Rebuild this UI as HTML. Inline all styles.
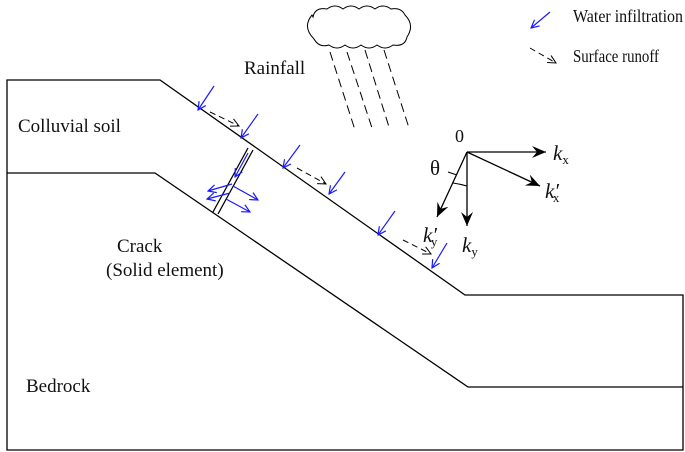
<!DOCTYPE html>
<html><head><style>body{margin:0;background:#fff}svg{display:block}text{font-family:"Liberation Serif","Times New Roman",serif;fill:#111}</style></head><body>
<svg width="685" height="452" viewBox="0 0 685 452" xmlns="http://www.w3.org/2000/svg">
<defs>
<marker id="b" markerWidth="10" markerHeight="10" refX="9" refY="5" orient="auto" markerUnits="userSpaceOnUse"><path d="M1,1 L9,5 L1,9" fill="none" stroke="#1a1aff" stroke-width="1.2"/></marker>
<marker id="k" markerWidth="10" markerHeight="10" refX="9" refY="5" orient="auto" markerUnits="userSpaceOnUse"><path d="M1,1 L9,5 L1,9" fill="none" stroke="#000" stroke-width="1"/></marker>
<marker id="h" markerWidth="16" markerHeight="12" refX="14" refY="6" orient="auto" markerUnits="userSpaceOnUse"><path d="M0,0 L14,6 L0,12 L5,6Z" fill="#000"/></marker>
</defs>
<g fill="none" stroke="#000" stroke-width="1.3">
<path d="M7,450 L7,80 L160,80 L465,295 L683,295 L683,450 Z"/>
<path d="M7,173 L155,173 L468,387 L683,387"/>
<path d="M248,148 L213,212 M253,150 L218,214"/>
<path d="M312,15 q-10,12 2,24 q5,9 15,6 q8,6 16,0 q8,6 16,0 q8,6 16,0 q8,6 16,0 q12,2 14,-8 q8,-12 -2,-22 q-4,-8 -14,-6 q-8,-6 -16,0 q-8,-6 -16,0 q-8,-6 -16,0 q-8,-6 -16,0 q-12,-2 -14,8 Z" stroke-width="1"/>
<g stroke-dasharray="9,5" stroke-width="1"><path d="M330,52 L355,130 M347,52 L372,128 M365,50 L389,127 M384,50 L409,128"/></g>
<g stroke-dasharray="6,4" stroke-width="1" marker-end="url(#k)"><path d="M210,112 L239,126"/><path d="M297,168 L326,184"/><path d="M403,240 L431,254"/><path d="M530,48 L556,63"/></g>
</g>
<g stroke="#1a1aff" stroke-width="1.2" fill="none" marker-end="url(#b)">
<path d="M214,86 L198,110"/><path d="M258,114 L241,138"/><path d="M300,145 L283,168"/><path d="M345,172 L329,194"/><path d="M395,211 L378,235"/><path d="M447,243 L432,268"/><path d="M550,12 L531,28"/>
<path d="M248,153 L235,177"/><path d="M232,184 L208,191"/><path d="M230,193 L207,199"/><path d="M233,186 L258,200"/><path d="M226,199 L250,212"/>
</g>
<g stroke="#000" stroke-width="1.3" fill="none">
<path d="M467,152 L546,152" marker-end="url(#h)"/>
<path d="M467,152 L540,186" marker-end="url(#h)"/>
<path d="M467,152 L467,226" marker-end="url(#h)"/>
<path d="M467,152 L437,217" marker-end="url(#h)"/>
<path d="M448,172 L457,175 M453,183 Q460,184 467,186" stroke-width="1"/>
</g>
<text x="573" y="22" font-size="18" textLength="110" lengthAdjust="spacingAndGlyphs">Water infiltration</text>
<text x="573" y="62" font-size="18" textLength="86" lengthAdjust="spacingAndGlyphs">Surface runoff</text>
<text x="244" y="74" font-size="19">Rainfall</text>
<text x="18" y="132" font-size="19">Colluvial soil</text>
<text x="117" y="252" font-size="19">Crack</text>
<text x="106" y="276" font-size="19">(Solid element)</text>
<text x="26" y="392" font-size="19">Bedrock</text>
<text x="455" y="142" font-size="18">0</text>
<text x="430" y="175" font-size="21">θ</text>
<text x="553" y="160" font-size="21" font-style="italic">k<tspan font-size="13" font-style="normal" dy="4">x</tspan></text>
<text x="545" y="198" font-size="21" font-style="italic">k′<tspan font-size="13" font-style="normal" dy="4" dx="-6">x</tspan></text>
<text x="423" y="242" font-size="21" font-style="italic">k′<tspan font-size="13" font-style="normal" dy="4" dx="-6">y</tspan></text>
<text x="462" y="252" font-size="21" font-style="italic">k<tspan font-size="13" font-style="normal" dy="4">y</tspan></text>
</svg>
</body></html>
